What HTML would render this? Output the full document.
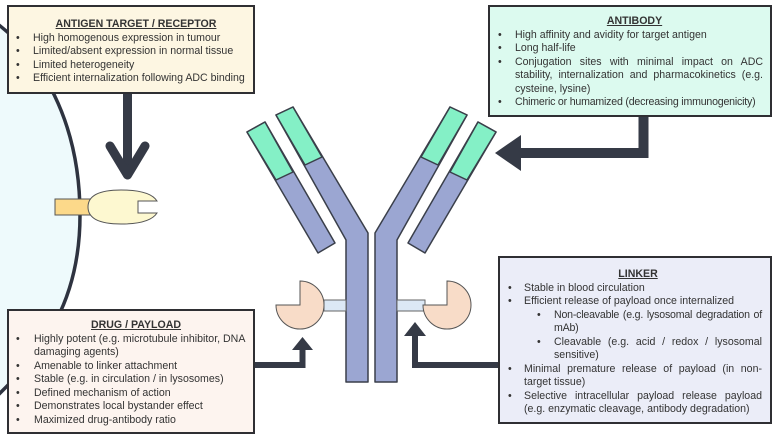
<!DOCTYPE html>
<html><head><meta charset="utf-8"><style>
html,body{margin:0;padding:0;background:#fff;}
body{width:778px;height:438px;position:relative;overflow:hidden;font-family:"Liberation Sans",sans-serif;color:#333;}
.box{position:absolute;border:2px solid #2f2f33;box-sizing:border-box;font-size:10.6px;letter-spacing:0;line-height:13.5px;}
.t{text-align:center;font-weight:bold;text-decoration:underline;}
.li{position:relative;padding-left:var(--p);}
.li:before{content:"•";position:absolute;left:var(--b);}
.j{text-align:justify;}
svg{position:absolute;left:0;top:0;}
</style></head><body>
<svg width="778" height="438" viewBox="0 0 778 438">
<path d="M-5,22 C40,55 80,120 80,215 C80,300 45,350 -5,398 L-5,22 Z" fill="#eefafc"/>
<path d="M-5,22 C40,55 80,120 80,215 C80,300 45,350 -5,398" fill="none" stroke="#2e3340" stroke-width="3.5"/>
<line x1="127.5" y1="92" x2="127.5" y2="176" stroke="#353a46" stroke-width="9"/>
<polyline points="110,146 127.5,175 145,146" fill="none" stroke="#353a46" stroke-width="9" stroke-linecap="round" stroke-linejoin="round"/>
<rect x="55" y="199" width="37" height="16" fill="#fcd98a" stroke="#555" stroke-width="1"/>
<path d="M157,201 Q150,190 121,190 Q88,190 88,207 Q88,224 121,224 Q150,224 157,213 L138,213 L138,201 Z" fill="#fdf8d0" stroke="#555" stroke-width="1"/>
<polyline points="643.5,114 643.5,153 515,153" fill="none" stroke="#353a46" stroke-width="10"/>
<polygon points="495,153 521,135 521,171" fill="#353a46"/>
<polyline points="252,365 302.5,365 302.5,348" fill="none" stroke="#353a46" stroke-width="6"/>
<polygon points="302.5,337 292,350 313,350" fill="#353a46"/>
<polyline points="500,365 415,365 415,333" fill="none" stroke="#353a46" stroke-width="6"/>
<polygon points="415,322 404,336 426,336" fill="#353a46"/>
<g stroke="#3a3f4a" stroke-width="1.5" stroke-linejoin="round">
<polygon points="276,115 293,107 368,233 368,382 346,382 346,240" fill="#9ba6d2"/>
<polygon points="276,115 293,107 322,157 305,165" fill="#84f0c6"/>
<polygon points="247,132 265,122 335,243 318,253" fill="#9ba6d2"/>
<polygon points="247,132 265,122 293,172 276,180" fill="#84f0c6"/>
<polygon points="467,115 450,107 375,233 375,382 397,382 397,240" fill="#9ba6d2"/>
<polygon points="467,115 450,107 421,157 438,165" fill="#84f0c6"/>
<polygon points="496,132 478,122 408,243 425,253" fill="#9ba6d2"/>
<polygon points="496,132 478,122 450,172 467,180" fill="#84f0c6"/>
</g>
<rect x="324" y="300" width="22" height="11" fill="#dce8f5" stroke="#666" stroke-width="1"/>
<rect x="397" y="300" width="28" height="11" fill="#dce8f5" stroke="#666" stroke-width="1"/>
<path d="M300,305 L300,281 A24,24 0 1 1 276,305 Z" fill="#f8dcc8" stroke="#555" stroke-width="1"/>
<path d="M447,305 L423,305 A24,24 0 1 0 447,281 Z" fill="#f8dcc8" stroke="#555" stroke-width="1"/>
</svg>

<div class="box" style="left:7px;top:5px;width:248px;height:89px;background:#fdf6e2;padding:11px 6px 0 0;--p:24px;--b:7px;">
<div class="t" style="padding-left:16px">ANTIGEN TARGET / RECEPTOR</div>
<div class="li">High homogenous expression in tumour</div>
<div class="li">Limited/absent expression in normal tissue</div>
<div class="li">Limited heterogeneity</div>
<div class="li">Efficient internalization following ADC binding</div>
</div>

<div class="box j" style="left:488px;top:5px;width:284px;height:112px;background:#dcfaef;padding:8px 7px 0 0;--p:25px;--b:8px;">
<div class="t" style="padding-left:16px">ANTIBODY</div>
<div class="li">High affinity and avidity for target antigen</div>
<div class="li">Long half-life</div>
<div class="li j" style="text-align-last:left">Conjugation sites with minimal impact on ADC stability, internalization and pharmacokinetics (e.g. cysteine, lysine)</div>
<div class="li" style="white-space:nowrap;letter-spacing:-0.2px">Chimeric or humamized (decreasing immunogenicity)</div>
</div>

<div class="box" style="left:498px;top:256px;width:274px;height:168px;background:#ebedf8;padding:10px 8px 0 0;--p:24px;--b:8px;">
<div class="t" style="padding-left:14px">LINKER</div>
<div class="li">Stable in blood circulation</div>
<div class="li">Efficient release of payload once internalized</div>
<div class="li j" style="--p:54px;--b:37px;text-align-last:left;letter-spacing:-0.2px">Non-cleavable (e.g. lysosomal degradation of mAb)</div>
<div class="li j" style="--p:54px;--b:37px;text-align-last:left">Cleavable (e.g. acid / redox / lysosomal sensitive)</div>
<div class="li j" style="text-align-last:left">Minimal premature release of payload (in non-target tissue)</div>
<div class="li j" style="text-align-last:left">Selective intracellular payload release payload (e.g. enzymatic cleavage, antibody degradation)</div>
</div>

<div class="box" style="left:7px;top:309px;width:248px;height:125px;background:#fdf4ef;padding:8px 6px 0 0;--p:25px;--b:7px;">
<div class="t" style="padding-left:16px">DRUG / PAYLOAD</div>
<div class="li">Highly potent (e.g. microtubule inhibitor, DNA damaging agents)</div>
<div class="li">Amenable to linker attachment</div>
<div class="li">Stable (e.g. in circulation / in lysosomes)</div>
<div class="li">Defined mechanism of action</div>
<div class="li">Demonstrates local bystander effect</div>
<div class="li">Maximized drug-antibody ratio</div>
</div>
</body></html>
